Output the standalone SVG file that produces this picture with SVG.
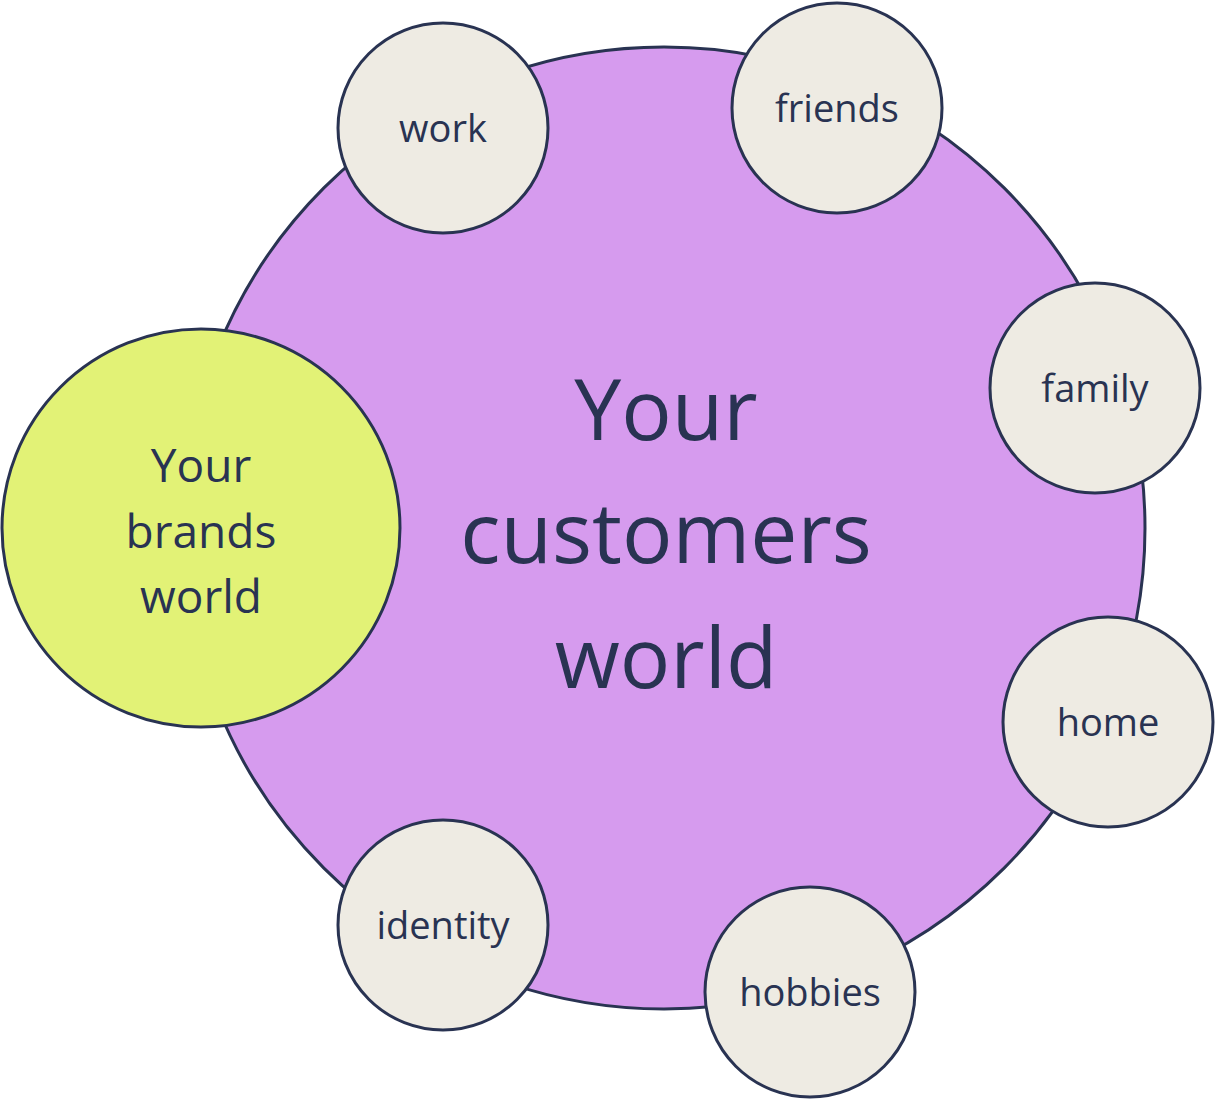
<svg xmlns="http://www.w3.org/2000/svg" width="1216" height="1099" viewBox="0 0 1216 1099">
<style>
circle{stroke:#293352;stroke-width:3}
.s{fill:#eeebe3}
text{font-family:"Open Sans","Liberation Sans",sans-serif;fill:#293352;text-anchor:middle}
.l{font-size:38px}
</style>
<rect width="1216" height="1099" fill="#fff"/>
<g id="customers"><circle cx="664" cy="528" r="481" fill="#d69bee"/>
<text font-size="84"><tspan x="666" y="440">Your</tspan><tspan x="666" y="563">customers</tspan><tspan x="666" y="688">world</tspan></text></g>
<g id="connectors"/>
<g id="brands"><circle cx="201" cy="528" r="199" fill="#e2f276"/>
<text font-size="46"><tspan x="201" y="482">Your</tspan><tspan x="201" y="548">brands</tspan><tspan x="201" y="613">world</tspan></text></g>
<g id="work"><circle class="s" cx="443" cy="128" r="105"/><text class="l" x="443" y="142">work</text></g>
<g id="friends"><circle class="s" cx="837" cy="108" r="105"/><text class="l" x="837" y="122">friends</text></g>
<g id="family"><circle class="s" cx="1095" cy="388" r="105"/><text class="l" x="1095" y="402">family</text></g>
<g id="home"><circle class="s" cx="1108" cy="722" r="105"/><text class="l" x="1108" y="736">home</text></g>
<g id="hobbies"><circle class="s" cx="810" cy="992" r="105"/><text class="l" x="810" y="1006">hobbies</text></g>
<g id="identity"><circle class="s" cx="443" cy="925" r="105"/><text class="l" x="443" y="939">identity</text></g>
</svg>
